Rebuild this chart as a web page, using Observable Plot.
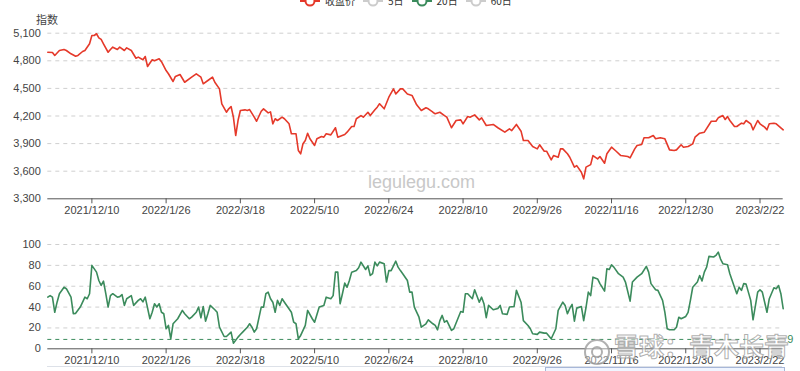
<!DOCTYPE html>
<html><head><meta charset="utf-8">
<script src="https://cdn.jsdelivr.net/npm/d3@7"></script>
<script src="https://cdn.jsdelivr.net/npm/@observablehq/plot@0.6"></script>
<style>
html,body{margin:0;padding:0;background:#fff;width:800px;height:371px;overflow:hidden;position:relative;font-family:"Liberation Sans","Noto Sans CJK SC",sans-serif;}
#topc,#bottomc{position:absolute;left:0;}
#topc{top:0;} #bottomc{top:230px;}
#legend{position:absolute;left:300px;top:-6px;display:flex;align-items:center;font-size:10px;color:#333;line-height:14px;font-family:"Noto Sans CJK SC",sans-serif;}
.item{display:flex;align-items:center;margin-right:8px;}
.item svg{margin-right:5px;}
#ylab{position:absolute;left:36px;top:11px;font-size:11px;color:#444;font-family:"Noto Sans CJK SC",sans-serif;}
#wm1{position:absolute;left:368px;top:172px;font-size:18px;color:#c8c8c8;font-family:"Liberation Sans",sans-serif;}
#wm2{position:absolute;left:614px;top:330px;font-size:25px;line-height:30px;color:rgba(255,255,255,0.55);-webkit-text-stroke:1px rgba(150,150,150,0.75);font-family:"Noto Sans CJK SC",sans-serif;font-weight:700;}
#logo{position:absolute;left:584px;top:339px;width:22px;height:22px;border:2px solid rgba(150,150,150,0.75);border-radius:50%;background:rgba(255,255,255,0.4);}
#logo:after{content:"";position:absolute;left:5px;top:5px;width:8px;height:8px;border:2px solid rgba(150,150,150,0.75);border-radius:50%;}
#dz{position:absolute;left:47px;top:366px;width:735px;height:10px;border-top:1px solid #dde1e8;}
#dzsel{position:absolute;left:545px;top:367px;width:238px;height:10px;border:1px solid #a7b7d8;background:rgba(135,175,274,0.12);}
</style></head><body>
<div id="topc"></div><div id="bottomc"></div>
<div id="legend"></div>
<div id="ylab">指数</div>
<div id="wm1">legulegu.com</div>
<div id="dz"></div><div id="dzsel"></div>
<div id="logo"></div>
<div id="wm2">雪球：青木长青</div>
<script>
// category axis: trading-day index 0..317
const tickIdx = [19, 51, 83, 115, 147, 179, 211, 243, 275, 307];
const tickLabels = ["2021/12/10","2022/1/26","2022/3/18","2022/5/10","2022/6/24","2022/8/10","2022/9/26","2022/11/16","2022/12/30","2023/2/22"];
const yTicksTop = [3300, 3600, 3900, 4200, 4500, 4800, 5100];
const yTicksBottom = [0, 20, 40, 60, 80, 100];
const markValue = 9;

// 收盘价 (index, value)
const closeIdx = [0,2,3,5,7,8,10,12,13,15,16,18,19,20,21,22,23,24,26,27,28,30,31,33,34,36,38,39,41,42,43,45,46,48,49,51,52,54,55,57,59,62,64,66,67,69,71,72,74,75,77,78,79,80,81,82,83,85,86,87,89,90,92,93,95,96,97,98,99,101,102,104,105,107,108,109,110,111,112,113,115,116,118,119,120,122,124,125,128,129,131,132,133,135,136,138,139,141,142,143,145,147,149,150,152,153,155,157,159,161,163,164,166,167,169,171,172,174,176,178,179,181,182,184,186,187,189,192,194,197,199,200,202,204,205,207,209,211,212,214,215,217,218,220,221,222,224,225,227,228,230,231,232,234,235,237,238,240,241,243,245,247,250,251,253,254,256,257,259,261,262,264,266,268,270,271,273,274,276,278,279,281,283,286,288,289,291,292,293,294,296,297,299,300,301,303,304,306,307,309,310,311,313,314,317];
const closeVal = [4893,4890,4858,4912,4923,4912,4876,4850,4858,4901,4912,4985,5075,5075,5094,5050,5032,4985,4893,4923,4948,4923,4948,4912,4941,4912,4828,4840,4811,4847,4738,4811,4800,4822,4790,4694,4659,4575,4630,4651,4567,4622,4659,4622,4550,4586,4622,4567,4495,4333,4241,4278,4303,4187,3988,4151,4260,4267,4260,4270,4187,4143,4252,4278,4234,4245,4115,4170,4151,4187,4170,4115,4007,4007,3825,3789,3898,3933,4013,3952,3880,3952,3977,3970,4007,3995,4072,3970,3999,4024,4086,4086,4170,4205,4187,4241,4205,4267,4296,4333,4278,4404,4495,4440,4495,4495,4440,4424,4322,4260,4289,4278,4241,4224,4241,4205,4187,4072,4151,4158,4115,4194,4187,4212,4158,4180,4097,4108,4072,4024,4061,4042,4108,4035,3934,3934,3868,3843,3887,3817,3817,3724,3770,3752,3843,3843,3789,3752,3644,3661,3589,3517,3644,3672,3770,3734,3759,3687,3789,3861,3817,3770,3759,3745,3843,3879,3890,3963,3963,3988,3952,3963,3952,3832,3825,3832,3887,3861,3868,3897,3970,4013,4024,4143,4143,4180,4205,4162,4194,4151,4086,4086,4122,4115,4151,4115,4050,4151,4115,4079,4050,4115,4122,4115,4050];

// 20日 (index, value)
const g20Idx = [0,1,2,3,4,5,7,8,10,11,12,14,16,17,18,19,21,22,23,24,25,26,27,28,30,31,32,33,34,36,37,39,40,41,42,44,45,46,47,48,49,50,51,52,53,54,56,58,59,61,62,64,65,66,67,68,69,70,72,73,74,76,77,79,80,82,83,84,86,87,88,89,90,92,93,94,95,96,97,98,99,100,101,102,105,106,107,108,109,111,112,114,115,117,119,120,122,123,124,125,126,127,128,129,130,131,133,134,135,137,138,139,140,141,142,143,145,146,147,148,150,151,152,153,155,156,157,158,160,161,163,164,166,167,168,169,170,171,172,174,175,177,178,179,180,181,183,184,186,187,188,189,190,192,194,195,196,198,199,201,202,204,205,207,208,209,211,212,214,215,217,219,220,222,223,224,225,226,227,228,230,231,232,233,234,235,237,238,240,241,242,243,244,246,248,249,251,252,254,256,258,259,260,262,263,265,266,267,268,270,271,272,273,275,276,277,278,280,281,282,283,284,285,287,288,289,290,291,293,294,296,297,298,299,300,301,303,304,306,307,308,310,311,313,314,315,316,317];
const g20Val = [49.5,51,49.5,35,44.7,52.8,59,57.6,49.5,33.6,34,40,49.5,48,52.8,80,73.5,65.5,60.7,64.9,52.8,40,51,52.8,49.5,50,52,41.6,48,51,41.6,46.4,48,45,49.5,28.8,35,43.2,40,43.2,35,33.6,19.2,22.4,9.6,24,28.8,36.8,33.6,28.8,30.4,35,40,29.8,40.6,26.5,33.6,41.6,37.4,35,20.7,11.8,11.8,16,5.4,11.2,13.7,16,20.7,24,20.7,16,19.2,40,40,52.8,54.3,48,44.7,35,46.4,41.6,48,44.7,35,25.5,24,9.6,12.8,22.4,36.8,28.8,25.5,40,41.6,49.5,48,51,73.5,73.5,43.2,52.8,63,59,65.5,73.5,75,77.7,83.1,76,79.5,70.3,72,83.1,79.5,83.1,81.5,64,75,75,84,78.3,75,72,65.5,54.3,54.3,40,30.3,20.7,24,27.8,24,22.4,18.2,27,32,25.5,27,17.6,19.2,30.3,35.8,35,52.8,52.8,48,56.6,44.7,49.5,43.2,29.8,41.6,37.4,38.7,41.6,33.6,33,40,40.6,56,44.7,27,22.4,19.2,14.4,13.8,16,15,15,9.6,19.2,36.8,44.7,41.6,33.6,38.7,42.6,26.5,39,40.6,27,39.6,54.3,51,68.7,67,62.5,55.3,76.8,76,80.6,78.3,72,68.7,64,45.7,64,68.7,72,79,73.5,62.5,56.6,56,46.4,35,19.2,18.2,18.2,20.7,30.3,28.8,31,35,46.4,59,64,70.3,65,73.5,78.3,88.6,88,89.5,92.7,86,81.6,80.6,72,59,52.8,59,56,62.5,62,46.4,27.8,54.3,56.6,54.3,35,48,58.5,57.6,60.7,52.8,38.4];

const legendNames = ["收盘价","5日","20日","60日"];
const legendColors = ["#e5392a","#cccccc","#3b8b5c","#cccccc"];

const RED = "#e5392a", GREEN = "#3b8b5c", GRID = "#cfcfcf", AXIS = "#555", TXT = "#444";
const closeData = closeIdx.map((i, k) => ({i, v: closeVal[k]}));
const g20Data = g20Idx.map((i, k) => ({i, v: g20Val[k]}));
const fmtTick = i => tickLabels[tickIdx.indexOf(i)];
const common = {
  width: 800, marginLeft: 47.3, marginRight: 17.3,
  style: {fontFamily: '"Liberation Sans","Noto Sans CJK SC",sans-serif', fontSize: "11px", color: TXT, background: "transparent", overflow: "visible"},
  x: {domain: [0, 317], label: null}
};

const topChart = Plot.plot({
  ...common,
  height: 220, marginTop: 32.7, marginBottom: 21.7,
  y: {domain: [3300, 5100], label: null},
  marks: [
    Plot.ruleY(yTicksTop.slice(1), {stroke: GRID, strokeDasharray: "4,4"}),
    Plot.ruleY([3300], {stroke: AXIS}),
    Plot.axisY({ticks: yTicksTop, tickFormat: d3.format(","), tickSize: 0, tickPadding: 7, fill: TXT, label: null}),
    Plot.axisX({ticks: tickIdx, tickFormat: fmtTick, tickSize: 5, tickPadding: 2, stroke: AXIS, fill: TXT, label: null}),
    Plot.line(closeData, {x: "i", y: "v", stroke: RED, strokeWidth: 1.6})
  ]
});
document.getElementById("topc").appendChild(topChart);

const bottomChart = Plot.plot({
  ...common,
  height: 141, marginTop: 14, marginBottom: 22.7,
  y: {domain: [0, 100], label: null},
  marks: [
    Plot.ruleY(yTicksBottom.slice(1), {stroke: GRID, strokeDasharray: "4,4"}),
    Plot.ruleY([markValue], {stroke: GREEN, strokeDasharray: "4,4", strokeWidth: 1}),
    Plot.ruleY([0], {stroke: AXIS}),
    Plot.axisY({ticks: yTicksBottom, tickSize: 0, tickPadding: 7, fill: TXT, label: null}),
    Plot.axisX({ticks: tickIdx, tickFormat: fmtTick, tickSize: 5, tickPadding: 2, stroke: AXIS, fill: TXT, label: null}),
    Plot.line(g20Data, {x: "i", y: "v", stroke: GREEN, strokeWidth: 1.6}),
    Plot.text([markValue], {x: 317, y: d => d, text: d => String(d), dx: 4, textAnchor: "start", fill: GREEN, fontSize: 11})
  ]
});
document.getElementById("bottomc").appendChild(bottomChart);

const lg = document.getElementById("legend");
legendNames.forEach((n, k) => {
  const c = legendColors[k];
  const it = document.createElement("div");
  it.className = "item";
  it.innerHTML = `<svg width="20" height="14"><line x1="0" x2="20" y1="7" y2="7" stroke="${c}" stroke-width="2"/><circle cx="10" cy="7" r="4.5" fill="#fff" stroke="${c}" stroke-width="2"/></svg><span>${n}</span>`;
  lg.appendChild(it);
});
</script>
</body></html>
